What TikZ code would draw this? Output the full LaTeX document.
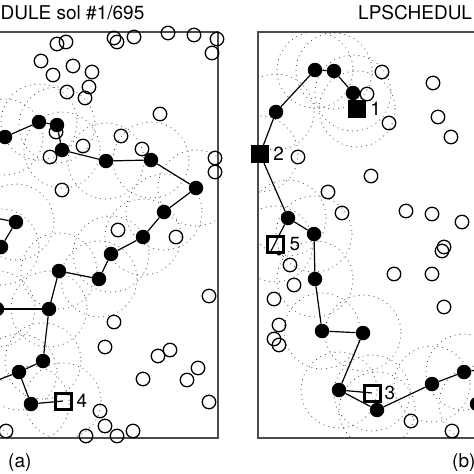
\documentclass[tikz,border=0pt]{standalone}
\usepackage{fontspec}
\setmainfont{TeX Gyre Heros}
\usetikzlibrary{positioning,backgrounds}

\tikzset{
  site/.style={circle,draw,line width=1.3pt,minimum size=13.5pt,inner sep=0pt},
  hop/.style={circle,fill,minimum size=14.5pt,inner sep=0pt},
  tinyhop/.style={circle,fill,minimum size=5pt,inner sep=0pt},
  sink/.style={rectangle,draw,line width=3pt,minimum size=16pt,inner sep=0pt},
  fullsink/.style={rectangle,fill,minimum size=18pt,inner sep=0pt},
  lbl/.style={inner sep=0pt,font=\fontsize{19}{21}\selectfont},
  ttl/.style={inner sep=0pt,font=\fontsize{19}{22}\selectfont},
  link/.style={line width=1.2pt},
  reach/.style={black!75,line width=1.1pt,line cap=round,dash pattern=on 0pt off 5pt},
  panel/.style={black!70,line width=1.1pt},
}

\begin{document}
\begin{tikzpicture}[x=1pt,y=-1pt]
\useasboundingbox (0,0) rectangle (474,474);
\clip (0,0) rectangle (474,474);

% titles and captions
\node[ttl,anchor=base west] (ta) at (0.5,19) {DULE sol \#1/695};
\node[ttl,anchor=base west] (tb) at (358,19) {LPSCHEDUL};
\node[lbl,anchor=base west] (capa) at (8,467) {(a)};
\node[lbl,anchor=base west] (capb) at (452,467) {(b)};

% panel (a): route
\foreach \n/\x/\y in {a1/5/137,a2/39/122,a3/57/125,a4/62/150,a5/106/161,a6/151/160,
  a7/196/188,a8/164/212,a9/143/237,a10/111/254,a11/99/279,a12/59/271,a13/49/309,
  a14/43/361,a15/19/372,a16/31/404,a17/16/222,a18/1/247,a19/-3/309}
  \node[hop] (\n) at (\x,\y) {};
\node[sink] (s4) at (63,401) {};
\node[lbl,right=4pt of s4] (l4) {4};
\coordinate (ea1) at (-10,217);
\coordinate (ea2) at (-10,383);

% panel (a): sites
\foreach \x/\y in {57/44,66/42,114/38,117/42,134/37,168/33,194/35,217/39,212/53,
  41/61,73/66,53/75,92/72,89/87,67/92,85/98,160/114,56/132,121/136,83/146,50/157,
  142/149,215/158,215/172,62/190,118/230,176/237,209/296,114/322,105/347,158/356,
  170/350,198/368,187/380,143/379,209/402,100/411,105/426,86/436,117/436,133/431,6/431}
  \node[site] at (\x,\y) {};

% panel (b): route
\foreach \n/\x/\y in {b1/315/70,b2/334/71,b3/353/93,b4/276/112,b5/288/218,b6/314/234,
  b7/315/279,b8/322/331,b9/363/333,b10/339/390,b11/377/410,b12/432/384,b13/464/372,
  b14/477/404}
  \node[hop] (\n) at (\x,\y) {};
\node[tinyhop] (b15) at (279,253) {};
\node[fullsink] (s1) at (357,109) {};
\node[fullsink] (s2) at (260,154) {};
\node[sink] (s3) at (372,393) {};
\node[sink] (s5) at (275,244) {};
\node[lbl,right=4pt of s1] (l1) {1};
\node[lbl,right=4pt of s2] (l2) {2};
\node[lbl,right=3pt of s3] (l3) {3};
\node[lbl,right=5pt of s5] (l5) {5};
\coordinate (eb1) at (484,369);
\coordinate (eb2) at (271,251);

% panel (b): sites
\foreach \x/\y in {382/72,433/83,367/94,389/123,438/117,451/137,298/157,371/176,
  328/192,342/213,406/211,432/214,462/222,290/265,294/285,274/299,279/325,274/339,
  279/345,444/247,442/251,394/274,432/274,444/307,411/421,452/431}
  \node[site] at (\x,\y) {};

\begin{scope}[on background layer]
  \begin{scope}
    \clip (-10,32) rectangle (218,438);
    \foreach \n in {a1,a2,a3,a4,a5,a6,a7,a8,a9,a10,a11,a12,a13,a14,a15,a16,a17,a18,a19,s4}
      \draw[reach] (\n) circle (38);
  \end{scope}
  \begin{scope}
    \clip (258,32) rectangle (484,438);
    \foreach \n in {b1,b2,b3,b4,b5,b6,b7,b8,b9,b10,b11,b12,b13,b14,s1,s2,s3,s5}
      \draw[reach] (\n) circle (38);
  \end{scope}
  \draw[panel] (-10,32) rectangle (218,438);
  \draw[panel] (258,32) rectangle (484,438);
  \draw[link] (a1) -- (a2) -- (a3) -- (a4) -- (a5) -- (a6) -- (a7) -- (a8) -- (a9)
    -- (a10) -- (a11) -- (a12) -- (a13) -- (a14) -- (a15) -- (a16) -- (s4.center);
  \draw[link] (a13) -- (a19);
  \draw[link] (a15) -- (ea2);
  \draw[link] (ea1) -- (a17) -- (a18);
  \draw[link] (s2) -- (b4) -- (b1) -- (b2) -- (b3) -- (s1);
  \draw[link] (s2) -- (b5) -- (b6) -- (b7) -- (b8) -- (b9) -- (b10) -- (s3.center);
  \draw[link] (b10) -- (b11) -- (b12) -- (b13) -- (eb1);
  \draw[link] (b5) -- (eb2);
\end{scope}
\end{tikzpicture}
\end{document}
